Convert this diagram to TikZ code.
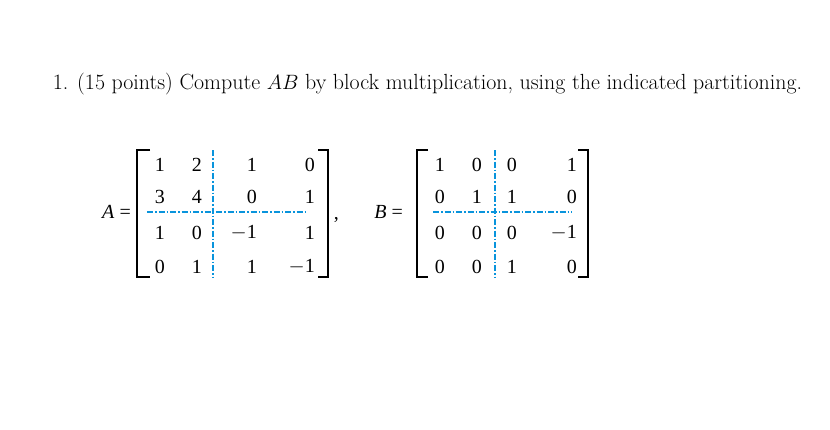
\documentclass[tikz,border=0pt]{standalone}
\usepackage{fontspec}
\newfontfamily\mfont{Liberation Serif}
\begin{document}
\begin{tikzpicture}[x=1pt,y=-1pt,
  ent/.style={anchor=east,inner sep=0pt,font=\mfont\fontsize{20}{22}\selectfont},
  brk/.style={line width=1.1pt},
  part/.style={draw=cyan!80!blue,line width=1.2pt,dash pattern=on 6pt off 2pt on 1.5pt off 2pt}]
\useasboundingbox (0,0) rectangle (830,429);
\node[inner sep=0pt,font=\fontsize{21.9}{24}\selectfont] (title) at (427.5,84) {1. (15 points) Compute $AB$ by block multiplication, using the indicated partitioning.};
% A
\node[ent] (la) at (131,212) {\textit{A} =};
\draw[brk] (150,150) -- (137,150) -- (137,277) -- (150,277);
\draw[brk] (318,150) -- (328,150) -- (328,277) -- (318,277);
\node[ent] (ca) at (339,220) {,};
\foreach \v/\x/\y in {1/165/165,2/202/165,1/257/165,0/315/165,
 3/165/197,4/202/197,0/257/197,1/315/197,
 1/165/233,0/202/233,$-$1/257/233,1/315/233,
 0/165/267,1/202/267,1/257/267,$-$1/315/267}
 \node[ent] at (\x,\y) {\v};
\draw[part] (213,150) -- (213,277);
\draw[part] (147,212) -- (307,212);
% B
\node[ent] (lb) at (403,212) {\textit{B} =};
\draw[brk] (428,150) -- (417,150) -- (417,277) -- (428,277);
\draw[brk] (578,150) -- (588,150) -- (588,277) -- (578,277);
\foreach \v/\x/\y in {1/445/165,0/482/165,0/517/165,1/577/165,
 0/445/197,1/482/197,1/517/197,0/577/197,
 0/445/233,0/482/233,0/517/233,$-$1/577/233,
 0/445/267,0/482/267,1/517/267,0/577/267}
 \node[ent] at (\x,\y) {\v};
\draw[part] (495,150) -- (495,277);
\draw[part] (433,212) -- (572,212);
\end{tikzpicture}
\end{document}
